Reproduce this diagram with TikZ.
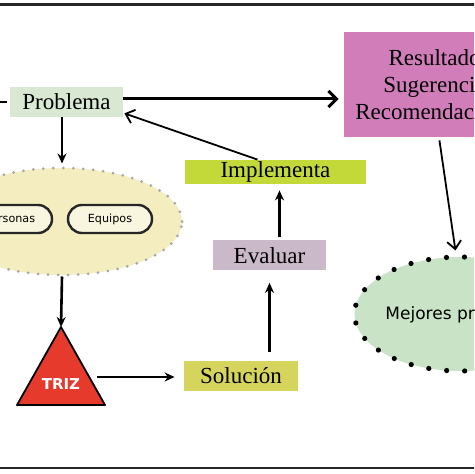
\documentclass[tikz,border=0pt]{standalone}
\usepackage{fontspec}
\setmainfont{Liberation Serif}
\setsansfont{DejaVu Sans}
\usetikzlibrary{arrows.meta, shapes.geometric}

\definecolor{probgreen}{HTML}{D9E8D3}
\definecolor{respink}{HTML}{D17DBA}
\definecolor{implgreen}{HTML}{C3D93A}
\definecolor{evalgray}{HTML}{C9B9C9}
\definecolor{solyellow}{HTML}{D5D55E}
\definecolor{mejgreen}{HTML}{C9E3C7}
\definecolor{factcream}{HTML}{F3EDC0}
\definecolor{trizred}{HTML}{E63B2C}

\begin{document}
\begin{tikzpicture}[x=0.5pt, y=-0.5pt,
		box/.style={inner sep=0pt, font=\fontsize{11.5}{13.5}\selectfont},
		pill/.style={draw=black!85, line width=1.2pt, rounded corners=7pt, fill=factcream!50, minimum width=42pt, minimum height=14pt, inner sep=0pt, font=\sffamily\fontsize{5.6}{6}\selectfont},
		fillarrow/.style={-{Stealth[length=5pt,width=4.5pt]}, line width=1.1pt},
		openarrow/.style={-{Straight Barb[length=4pt,width=7pt]}}]
			\useasboundingbox (0,0) rectangle (474,474);
			\clip (0,0) rectangle (474,474);
			% frame
			\draw[line width=1.1pt, black!85] (-10,4.5) -- (484,4.5);
			\draw[line width=1.1pt, black!85] (-10,468) -- (484,468);
			
			\node[box, fill=probgreen, minimum width=56.5pt, minimum height=15pt] at(66.5,102) (prob) {Problema};
			\node[box, fill=respink, minimum width=95pt, minimum height=52.5pt, align=center] at(439,84.5) (res) {Resultados\\Sugerencias\\Recomendaciones};
			\node[box, fill=implgreen, minimum width=90.5pt, minimum height=12pt] at(275.5,172) (impl) {Implementa};
			\node[box, fill=evalgray, minimum width=56.5pt, minimum height=15pt] at(269.5,255.5) (eval) {Evaluar};
			\node[box, fill=solyellow, minimum width=57pt, minimum height=15pt] at(241,376) (sol) {Solución};
			
			\node[ellipse, fill=factcream, draw=black!35, line width=1.5pt, dash pattern=on 0pt off 5pt, line cap=round, minimum width=120pt, minimum height=53.5pt, inner sep=0pt] at(62,221.5) (fact) {};
			\node[pill] at(10,219) (pers) {Personas};
			\node[pill] at(110,219) (equip) {Equipos};
			
			\node[ellipse, fill=mejgreen, draw=black, line width=2.6pt, dash pattern=on 0pt off 9pt, line cap=round, minimum width=87pt, minimum height=57pt, inner sep=0pt, font=\sffamily\fontsize{8.5}{10}\selectfont] at(460,314) (mej) {Mejores prácticas};
			
			% triangulo
			\coordinate (tA) at (61,327);
			\coordinate (tB) at (17,405);
			\coordinate (tC) at (105,405);
			\draw[fill=trizred, line width=0.9pt, line join=round] (tA) -- (tB) -- (tC) -- cycle;
			\node[text=white, font=\sffamily\bfseries\fontsize{7.5}{8}\selectfont, inner sep=1pt] at(61,384) (triz) {TRIZ};
			\coordinate (trizR) at (97,377);
			\coordinate (izq) at (-30,102);
			
			\draw[openarrow, line width=1.5pt, -{Straight Barb[length=4pt,width=8pt]}] ([yshift=1.5pt]prob.east) -- ([yshift=1.5pt,xshift=-2.5pt]prob.east -| res.west);
			\draw[line width=1pt, shorten <=1.5pt] (prob.west) -- (izq);
			\draw[fillarrow, shorten >=1.5pt] (prob.south -| fact.north) -- (fact.north);
			\draw[fillarrow, line width=1.3pt] (fact.south) -- (tA);
			\draw[fillarrow] (trizR) -- ([xshift=-4.5pt]sol.west |- trizR);
			\draw[fillarrow, shorten <=4.5pt, shorten >=6pt] (sol.north -| eval.south) -- (eval.south);
			\draw[fillarrow, shorten <=1.5pt, shorten >=3pt] ([xshift=5pt]eval.north) -- ([xshift=5pt]eval.north |- impl.south);
			\draw[openarrow, line width=0.9pt] ([xshift=-9pt]impl.north) -- ([yshift=2pt,xshift=0.5pt]prob.south east);
			\draw[openarrow, line width=0.9pt, shorten <=1.5pt, shorten >=2pt] (res.south) -- ([xshift=-2pt]mej.north);
			\end{tikzpicture}
\end{document}
